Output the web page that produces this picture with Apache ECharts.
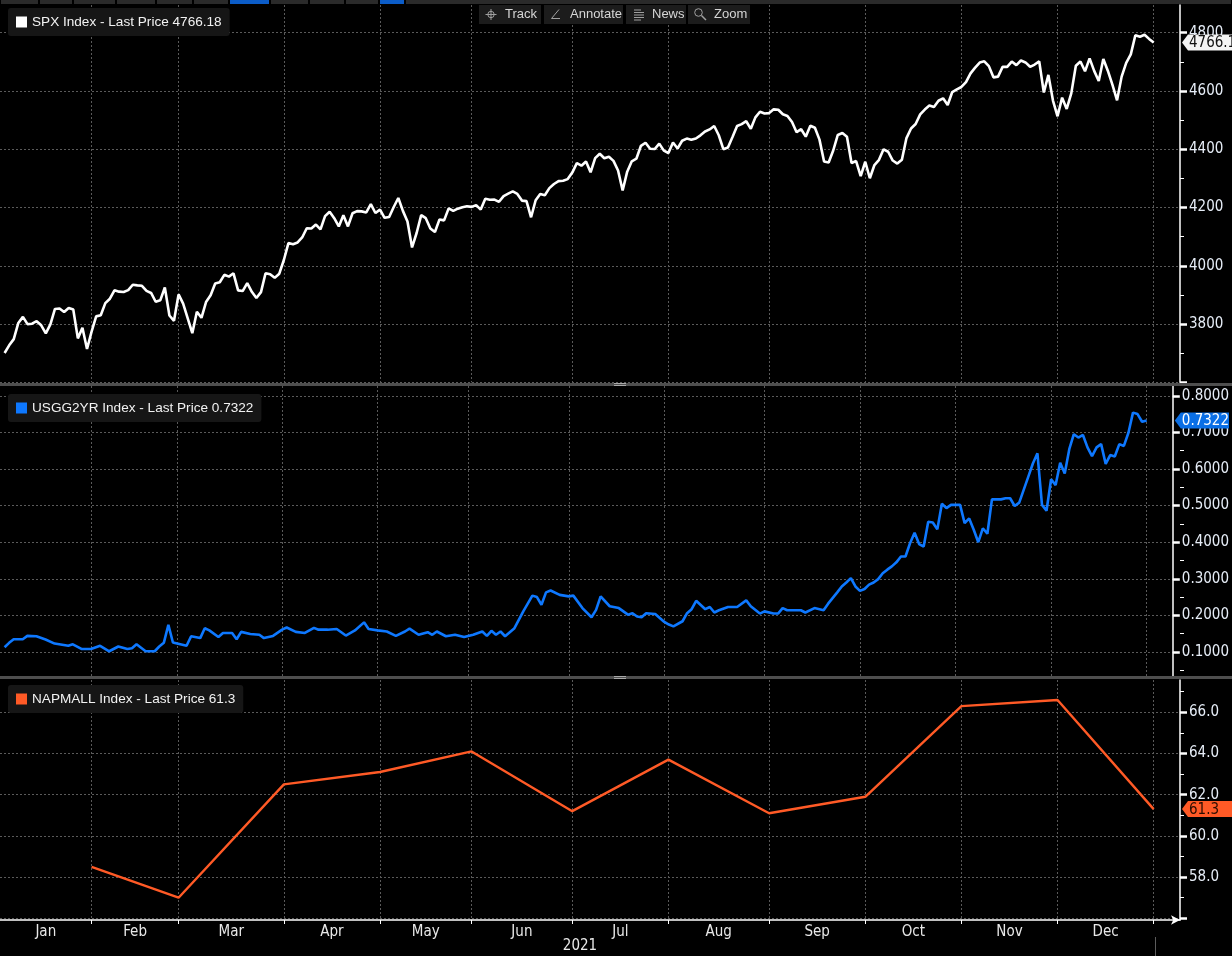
<!DOCTYPE html>
<html>
<head>
<meta charset="utf-8">
<script src="https://cdn.jsdelivr.net/npm/echarts@6/dist/echarts.min.js"></script>
<style>
html,body{margin:0;padding:0;background:#000;}
#c{width:1232px;height:956px;}
</style>
</head>
<body>
<div id="c"></div>
<script>
// ---------------- DATA ----------------
const holidays = ['2021-01-01','2021-01-18','2021-02-15','2021-04-02','2021-05-31','2021-07-05','2021-09-06','2021-11-25','2021-12-24'];
const monthNames = ['Jan','Feb','Mar','Apr','May','Jun','Jul','Aug','Sep','Oct','Nov','Dec'];
const yearLabel = '2021';

// SPX Index daily close, one value per trading day of 2021
const spxValues = [
 3700.65,3726.86,3748.14,3803.79,3824.68,3799.61,3801.19,3809.84,3795.54,3768.25,3798.91,3851.85,3853.07,3841.47,3855.36,3849.62,3750.77,3787.38,3714.24,
 3773.86,3826.31,3830.17,3871.74,3886.83,3915.59,3911.23,3909.88,3916.38,3934.83,3932.59,3931.33,3913.97,3906.71,3876.50,3881.37,3925.43,3829.34,3811.15,
 3901.82,3870.29,3819.72,3768.47,3841.94,3821.35,3875.44,3898.81,3939.34,3943.34,3968.94,3962.71,3974.12,3915.46,3913.10,3940.59,3910.52,3889.14,3909.52,3974.54,3971.09,3958.55,3972.89,
 4019.87,4077.91,4073.94,4079.95,4097.17,4128.80,4127.99,4141.59,4124.66,4170.42,4185.47,4163.26,4134.94,4173.42,4134.98,4180.17,4187.62,4186.72,4183.18,4211.47,4181.17,
 4192.66,4164.66,4167.59,4201.62,4232.60,4188.43,4152.10,4063.04,4112.50,4173.85,4163.29,4127.83,4115.68,4159.12,4155.86,4197.05,4188.13,4195.99,4200.88,4204.11,
 4202.04,4208.12,4192.85,4229.89,4226.52,4227.26,4219.55,4239.18,4247.44,4255.15,4246.59,4223.70,4221.86,4166.45,4224.79,4246.44,4241.84,4266.49,4280.70,4290.61,4291.80,4297.50,
 4319.94,4352.34,4343.54,4358.13,4320.82,4369.55,4384.63,4369.21,4374.30,4360.03,4327.16,4258.49,4323.06,4358.69,4367.48,4411.79,4422.30,4401.46,4400.64,4419.15,4395.26,
 4387.16,4423.15,4402.66,4429.10,4436.52,4432.35,4436.75,4447.70,4460.83,4468.00,4479.71,4448.08,4400.27,4405.80,4441.67,4479.53,4486.23,4496.19,4470.00,4509.37,4528.79,4522.68,
 4524.09,4536.95,4535.43,4520.03,4514.07,4493.28,4458.58,4468.73,4443.05,4480.70,4473.75,4432.99,4357.73,4354.19,4395.64,4448.98,4455.48,4443.11,4352.63,4359.46,4307.54,
 4357.04,4300.46,4345.72,4363.55,4399.76,4391.34,4361.19,4350.65,4363.80,4438.26,4471.37,4486.46,4519.63,4536.19,4549.78,4544.90,4566.48,4574.79,4551.68,4596.42,4605.38,
 4613.67,4630.65,4660.57,4680.06,4697.53,4701.70,4685.25,4646.71,4649.27,4682.85,4682.80,4700.90,4688.67,4704.54,4697.96,4682.94,4690.70,4701.46,4594.62,4655.27,4567.00,
 4513.04,4577.10,4538.43,4591.67,4686.75,4701.21,4667.45,4712.02,4668.97,4634.09,4709.85,4668.67,4620.64,4568.02,4649.23,4696.56,4725.79,4791.19,4786.35,4793.06,4778.73,4766.18
];

// USGG2YR Index
const usggDates = [
 '2021-01-04','2021-01-05','2021-01-06','2021-01-08','2021-01-11','2021-01-13','2021-01-15','2021-01-20','2021-01-25','2021-01-26','2021-01-28',
 '2021-02-01','2021-02-03','2021-02-05','2021-02-09','2021-02-11','2021-02-12','2021-02-16','2021-02-18','2021-02-22','2021-02-23','2021-02-24','2021-02-25','2021-02-26',
 '2021-03-03','2021-03-04','2021-03-08','2021-03-09','2021-03-10','2021-03-12','2021-03-15','2021-03-17','2021-03-18','2021-03-19','2021-03-23','2021-03-25','2021-03-26','2021-03-30',
 '2021-04-01','2021-04-05','2021-04-07','2021-04-09','2021-04-13','2021-04-14','2021-04-16','2021-04-20','2021-04-22','2021-04-26','2021-04-28','2021-04-29',
 '2021-05-03','2021-05-05','2021-05-07','2021-05-11','2021-05-12','2021-05-14','2021-05-18','2021-05-19','2021-05-20','2021-05-24','2021-05-26','2021-05-28',
 '2021-06-02','2021-06-04','2021-06-07','2021-06-08','2021-06-09','2021-06-10','2021-06-11','2021-06-15','2021-06-17','2021-06-21','2021-06-22','2021-06-23','2021-06-24','2021-06-25','2021-06-29',
 '2021-07-01','2021-07-02','2021-07-07','2021-07-09','2021-07-12','2021-07-13','2021-07-15','2021-07-19','2021-07-21','2021-07-22','2021-07-23','2021-07-26','2021-07-27','2021-07-29',
 '2021-08-02','2021-08-03','2021-08-04','2021-08-06','2021-08-09','2021-08-10','2021-08-11','2021-08-13','2021-08-16','2021-08-17','2021-08-18','2021-08-20','2021-08-24','2021-08-26','2021-08-27','2021-08-31',
 '2021-09-01','2021-09-03','2021-09-07','2021-09-08','2021-09-09','2021-09-14','2021-09-15','2021-09-17','2021-09-21','2021-09-22','2021-09-24','2021-09-27','2021-09-28','2021-09-29','2021-09-30',
 '2021-10-01','2021-10-04','2021-10-05','2021-10-06','2021-10-07','2021-10-08','2021-10-11','2021-10-12','2021-10-13','2021-10-14','2021-10-15','2021-10-18','2021-10-19','2021-10-20','2021-10-21','2021-10-22','2021-10-25','2021-10-26','2021-10-27','2021-10-28','2021-10-29',
 '2021-11-01','2021-11-02','2021-11-03','2021-11-04','2021-11-05','2021-11-08','2021-11-09','2021-11-10','2021-11-11','2021-11-12','2021-11-15','2021-11-16','2021-11-17','2021-11-18','2021-11-19','2021-11-23','2021-11-24','2021-11-26','2021-11-29','2021-11-30',
 '2021-12-01','2021-12-02','2021-12-03','2021-12-06','2021-12-07','2021-12-08','2021-12-09','2021-12-10','2021-12-13','2021-12-14','2021-12-15','2021-12-16','2021-12-17','2021-12-20','2021-12-21','2021-12-22','2021-12-23','2021-12-27','2021-12-28','2021-12-29','2021-12-30','2021-12-31'
];
const usggValues = [
 0.113,0.125,0.135,0.135,0.144,0.143,0.134,0.123,0.117,0.121,0.108,
 0.108,0.117,0.102,0.115,0.108,0.110,0.121,0.102,0.102,0.115,0.125,0.174,0.126,
 0.117,0.143,0.138,0.165,0.159,0.141,0.152,0.152,0.135,0.155,0.149,0.147,0.138,0.144,
 0.161,0.167,0.155,0.152,0.166,0.161,0.161,0.163,0.145,0.159,0.181,0.163,
 0.159,0.156,0.144,0.156,0.164,0.147,0.154,0.147,0.156,0.143,0.147,0.141,
 0.147,0.156,0.144,0.158,0.147,0.156,0.143,0.164,0.211,0.254,0.250,0.229,0.263,0.268,0.256,
 0.252,0.254,0.220,0.195,0.215,0.252,0.225,0.220,0.202,0.206,0.197,0.195,0.206,0.204,
 0.182,0.175,0.170,0.184,0.206,0.217,0.240,0.217,0.223,0.208,0.214,0.223,0.223,0.241,0.225,0.205,
 0.211,0.205,0.205,0.220,0.214,0.214,0.208,0.220,0.214,0.232,0.263,0.279,0.290,0.302,0.279,
 0.267,0.272,0.284,0.290,0.299,0.315,0.325,0.334,0.345,0.361,0.361,0.397,0.426,0.395,0.388,0.456,0.454,0.435,0.505,0.493,0.502,
 0.502,0.502,0.452,0.465,0.434,0.400,0.438,0.423,0.517,0.517,0.517,0.520,0.520,0.499,0.508,0.579,0.615,0.643,0.502,0.486,
 0.572,0.556,0.617,0.588,0.654,0.695,0.686,0.693,0.659,0.635,0.659,0.668,0.614,0.638,0.634,0.668,0.663,0.699,0.754,0.750,0.729,0.7322
];

// NAPMALL Index
const napmDates = ['2021-02-01','2021-03-01','2021-04-01','2021-05-03','2021-06-01','2021-07-01','2021-08-02','2021-09-01','2021-10-01','2021-11-01','2021-12-01','2021-12-31'];
const napmValues = [58.5,57.0,62.5,63.1,64.1,61.2,63.7,61.1,61.9,66.3,66.6,61.3];

// axis tick values
const spxTickValues = [3600,3800,4000,4200,4400,4600,4800];
const spxLabelValues = [3800,4000,4200,4400,4600,4800];
const spxMinorValues = [3700,3900,4100,4300,4500,4700];
const usggTickValues = [0.1,0.2,0.3,0.4,0.5,0.6,0.7,0.8];
const usggMinorValues = [0.05,0.15,0.25,0.35,0.45,0.55,0.65,0.75];
const napmTickValues = [56,58,60,62,64,66];
const napmLabelValues = [58,60,62,64,66];
const napmMinorValues = [57,59,61,63,65,67];

// ---------------- BUILD ----------------
const FONT_N = "'Liberation Sans Narrow','Arial Narrow','DejaVu Sans Condensed',sans-serif";
const FONT_R = "'Liberation Sans',Arial,sans-serif";

const tradingDays = [];
for (let t = Date.UTC(2021,0,4); t <= Date.UTC(2021,11,31); t += 86400000) {
  const d = new Date(t); const wd = d.getUTCDay(); const s = d.toISOString().slice(0,10);
  if (wd === 0 || wd === 6 || holidays.indexOf(s) >= 0) continue;
  tradingDays.push(s);
}
const dayIndex = {}; tradingDays.forEach((d,i)=>{dayIndex[d]=i;});

const X_MIN = -1.005, X_MAX = 256.75;
const monthStarts = [];
for (let m = 2; m <= 12; m++) {
  const mm = (m<10?'0':'')+m;
  monthStarts.push(tradingDays.findIndex(d => d.slice(5,7) === mm));
}
monthStarts.push(tradingDays.length - 1);
const bounds = [X_MIN].concat(monthStarts);
const monthLabelPos = [];
for (let k = 0; k < 12; k++) monthLabelPos.push((bounds[k] + bounds[k+1]) / 2);

const spxData = spxValues.map((v,i)=>[i,v]);
const usggData = usggDates.map((d,k)=>[dayIndex[d], usggValues[k]]);
const napmData = napmDates.map((d,k)=>[dayIndex[d], napmValues[k]]);

const GRID_LINE = {show:true, lineStyle:{color:'#5a5a5a', width:1, type:[2,2]}};

function xAxisFor(gi, bottom) {
  return {
    type:'value', gridIndex:gi, min:X_MIN, max:X_MAX,
    axisLine: bottom ? {show:true, onZero:false, symbol:['none','arrow'], symbolSize:[7,9], lineStyle:{color:'#ffffff', width:1.5}} : {show:false},
    axisTick: {show:!!bottom, customValues: monthStarts, length:4, lineStyle:{color:'#ffffff', width:1}},
    axisLabel: bottom ? {show:true, customValues: monthLabelPos, color:'#e8e8e8', fontFamily:FONT_N, fontSize:15, margin:5,
      formatter: function(v){ let best=0, bd=1e9; monthLabelPos.forEach((p,k)=>{const dd=Math.abs(p-v); if(dd<bd){bd=dd;best=k;}}); return monthNames[best]; }} : {show:false},
    splitLine: GRID_LINE
  };
}
function yAxisMajor(gi, min, max, ticks, labels, fmt) {
  return {
    type:'value', gridIndex:gi, position:'right', min:min, max:max,
    axisLine:{show:true, onZero:false, lineStyle:{color:'#ffffff', width:1.5}},
    axisTick:{show:true, customValues:ticks, length:7, lineStyle:{color:'#ffffff', width:2.5}},
    axisLabel:{show:true, customValues:labels, color:'#e6edf7', fontFamily:FONT_N, fontSize:15, margin:9, formatter:fmt},
    splitLine: GRID_LINE
  };
}
// minor ticks: a second axis moved onto the right edge, ticks pointing outwards (right)
function yAxisMinor(gi, min, max, ticks) {
  return {
    type:'value', gridIndex:gi, position:'left', offset:-1180, min:min, max:max,
    axisLine:{show:false}, axisLabel:{show:false}, splitLine:{show:false},
    axisTick:{show:true, inside:true, customValues:ticks, length:4, lineStyle:{color:'#ffffff', width:1}}
  };
}

const Y0 = {min:3600, max:3600 + 377.3/0.29133};
const Y1 = {max:0.8 + 9.8/366, min:0.8 + 9.8/366 - 290/366};
const Y2 = {max:66 + 32.3/20.6, min:66 + 32.3/20.6 - 240/20.6};

const lastSpx = spxValues[spxValues.length-1];
const lastUsgg = usggValues[usggValues.length-1];
const lastNapm = napmValues[napmValues.length-1];

function legendFor(name, top, text) {
  return {
    data:[name], left:8, top:top, orient:'horizontal', selectedMode:false,
    backgroundColor:'#161616', borderRadius:3, padding:[7,8,7,8],
    icon:'rect', itemWidth:11, itemHeight:11,
    textStyle:{color:'#f2f2f2', fontFamily:FONT_R, fontSize:13.6},
    formatter:function(){ return text; }
  };
}

const toolbar = [];
const tb = [['Track',479,541,505],['Annotate',544,623,570],['News',626,686,652],['Zoom',688,750,714]];
tb.forEach(b=>{
  toolbar.push({type:'rect', shape:{x:b[1], y:5, width:b[2]-b[1], height:19}, style:{fill:'#1c1c1c'}, z:20, silent:true});
  toolbar.push({type:'text', x:b[3], y:14.5, style:{text:b[0], fill:'#d6d6d6', font:'13px '+FONT_R, verticalAlign:'middle'}, z:21, silent:true});
});
const ic = '#a0a0a0';
toolbar.push({type:'circle', shape:{cx:491, cy:14.5, r:3.2}, style:{stroke:ic, fill:null, lineWidth:1}, z:21, silent:true});
toolbar.push({type:'line', shape:{x1:485.5, y1:14.5, x2:496.5, y2:14.5}, style:{stroke:ic, lineWidth:1}, z:21, silent:true});
toolbar.push({type:'line', shape:{x1:491, y1:9, x2:491, y2:20}, style:{stroke:ic, lineWidth:1}, z:21, silent:true});
toolbar.push({type:'polyline', shape:{points:[[559,9.5],[551.5,18.5],[560,18.5]]}, style:{stroke:ic, lineWidth:1, fill:null}, z:21, silent:true});
[10,12.5,15,17.5,20].forEach((y,k)=>toolbar.push({type:'line', shape:{x1:634, y1:y, x2:k===0||k===4?641:644, y2:y}, style:{stroke:ic, lineWidth:1}, z:21, silent:true}));
toolbar.push({type:'circle', shape:{cx:698.5, cy:12.5, r:3.8}, style:{stroke:ic, fill:null, lineWidth:1}, z:21, silent:true});
toolbar.push({type:'line', shape:{x1:701.5, y1:15.5, x2:706, y2:20}, style:{stroke:ic, lineWidth:1.5}, z:21, silent:true});

// top tab strip
const tabEdges = [0,39,73,116,156,193,229,270,309,345,379,405,1232];
const tabBlue = {6:true, 10:true};
const tabs = [];
for (let k = 0; k < tabEdges.length-1; k++) {
  tabs.push({type:'rect', shape:{x:tabEdges[k]+1, y:0, width:tabEdges[k+1]-tabEdges[k]-2, height:4}, style:{fill: tabBlue[k] ? '#0b5cc8' : '#2a2a2a'}, z:21, silent:true});
}

const decor = tabs.concat([
  {type:'rect', shape:{x:0, y:383, width:1232, height:3}, style:{fill:'#4e4e4e'}, z:20, silent:true},
  {type:'rect', shape:{x:0, y:676, width:1232, height:3}, style:{fill:'#4e4e4e'}, z:20, silent:true},
  {type:'line', shape:{x1:614, y1:383.5, x2:626, y2:383.5}, style:{stroke:'#a8a8a8', lineWidth:1}, z:21, silent:true},
  {type:'line', shape:{x1:614, y1:385.5, x2:626, y2:385.5}, style:{stroke:'#a8a8a8', lineWidth:1}, z:21, silent:true},
  {type:'line', shape:{x1:614, y1:676.5, x2:626, y2:676.5}, style:{stroke:'#a8a8a8', lineWidth:1}, z:21, silent:true},
  {type:'line', shape:{x1:614, y1:678.5, x2:626, y2:678.5}, style:{stroke:'#a8a8a8', lineWidth:1}, z:21, silent:true},
  {type:'line', shape:{x1:1155.5, y1:937, x2:1155.5, y2:956}, style:{stroke:'#5c5c5c', lineWidth:1}, z:21, silent:true},
  {type:'text', x:580, y:946, style:{text:yearLabel, fill:'#e8e8e8', font:'15px '+FONT_N, align:'center', verticalAlign:'middle'}, z:21, silent:true}
]);

const option = {
  backgroundColor:'#000000',
  animation:false,
  grid:[
    {left:0, width:1180, top:5, height:377.3},
    {left:0, width:1180, top:386, height:290},
    {left:0, width:1180, top:680, height:240}
  ],
  legend:[
    legendFor('SPX Index', 8, 'SPX Index - Last Price ' + lastSpx.toFixed(2)),
    legendFor('USGG2YR Index', 394, 'USGG2YR Index - Last Price ' + lastUsgg.toFixed(4)),
    legendFor('NAPMALL Index', 685, 'NAPMALL Index - Last Price ' + lastNapm.toFixed(1))
  ],
  xAxis:[xAxisFor(0,false), xAxisFor(1,false), xAxisFor(2,true)],
  yAxis:[
    yAxisMajor(0, Y0.min, Y0.max, spxTickValues, spxLabelValues, v=>String(Math.round(v))),
    yAxisMajor(1, Y1.min, Y1.max, usggTickValues, usggTickValues, v=>v.toFixed(4)),
    yAxisMajor(2, Y2.min, Y2.max, napmTickValues, napmLabelValues, v=>v.toFixed(1)),
    yAxisMinor(0, Y0.min, Y0.max, spxMinorValues),
    yAxisMinor(1, Y1.min, Y1.max, usggMinorValues),
    yAxisMinor(2, Y2.min, Y2.max, napmMinorValues)
  ],
  series:[
    {name:'SPX Index', type:'line', xAxisIndex:0, yAxisIndex:0, data:spxData, showSymbol:false, color:'#ffffff', lineStyle:{color:'#ffffff', width:2.6}, silent:true, z:5},
    {name:'USGG2YR Index', type:'line', xAxisIndex:1, yAxisIndex:1, data:usggData, showSymbol:false, color:'#0e78ff', lineStyle:{color:'#0e78ff', width:2.6}, silent:true, z:5},
    {name:'NAPMALL Index', type:'line', xAxisIndex:2, yAxisIndex:2, data:napmData, showSymbol:false, color:'#ff5a26', lineStyle:{color:'#ff5a26', width:2.4}, silent:true, z:5}
  ],
  graphic: decor.concat(toolbar)
};

const chart = echarts.init(document.getElementById('c'), null, {renderer:'canvas'});
chart.setOption(option);

function tag(axisIdx, value, text, bg, fg, right) {
  const ax = chart.convertToPixel({xAxisIndex:axisIdx}, X_MAX) + 2;
  const yc = chart.convertToPixel({yAxisIndex:axisIdx}, value);
  return [
    {type:'polygon', shape:{points:[[ax,yc],[ax+6,yc-8],[right,yc-8],[right,yc+8],[ax+6,yc+8]]}, style:{fill:bg}, z:30, silent:true},
    {type:'text', x:ax+7, y:yc+0.5, style:{text:text, fill:fg, font:'15px '+FONT_N, verticalAlign:'middle'}, z:31, silent:true}
  ];
}
const tags = [].concat(
  tag(0, lastSpx, lastSpx.toFixed(2), '#f4f4f4', '#111111', 1240),
  tag(1, lastUsgg, lastUsgg.toFixed(4), '#0a6fe6', '#ffffff', 1229),
  tag(2, lastNapm, lastNapm.toFixed(1), '#ff5a26', '#2a0c00', 1240)
);
chart.setOption({graphic: decor.concat(toolbar).concat(tags)}, {replaceMerge:['graphic']});
</script>
</body>
</html>
